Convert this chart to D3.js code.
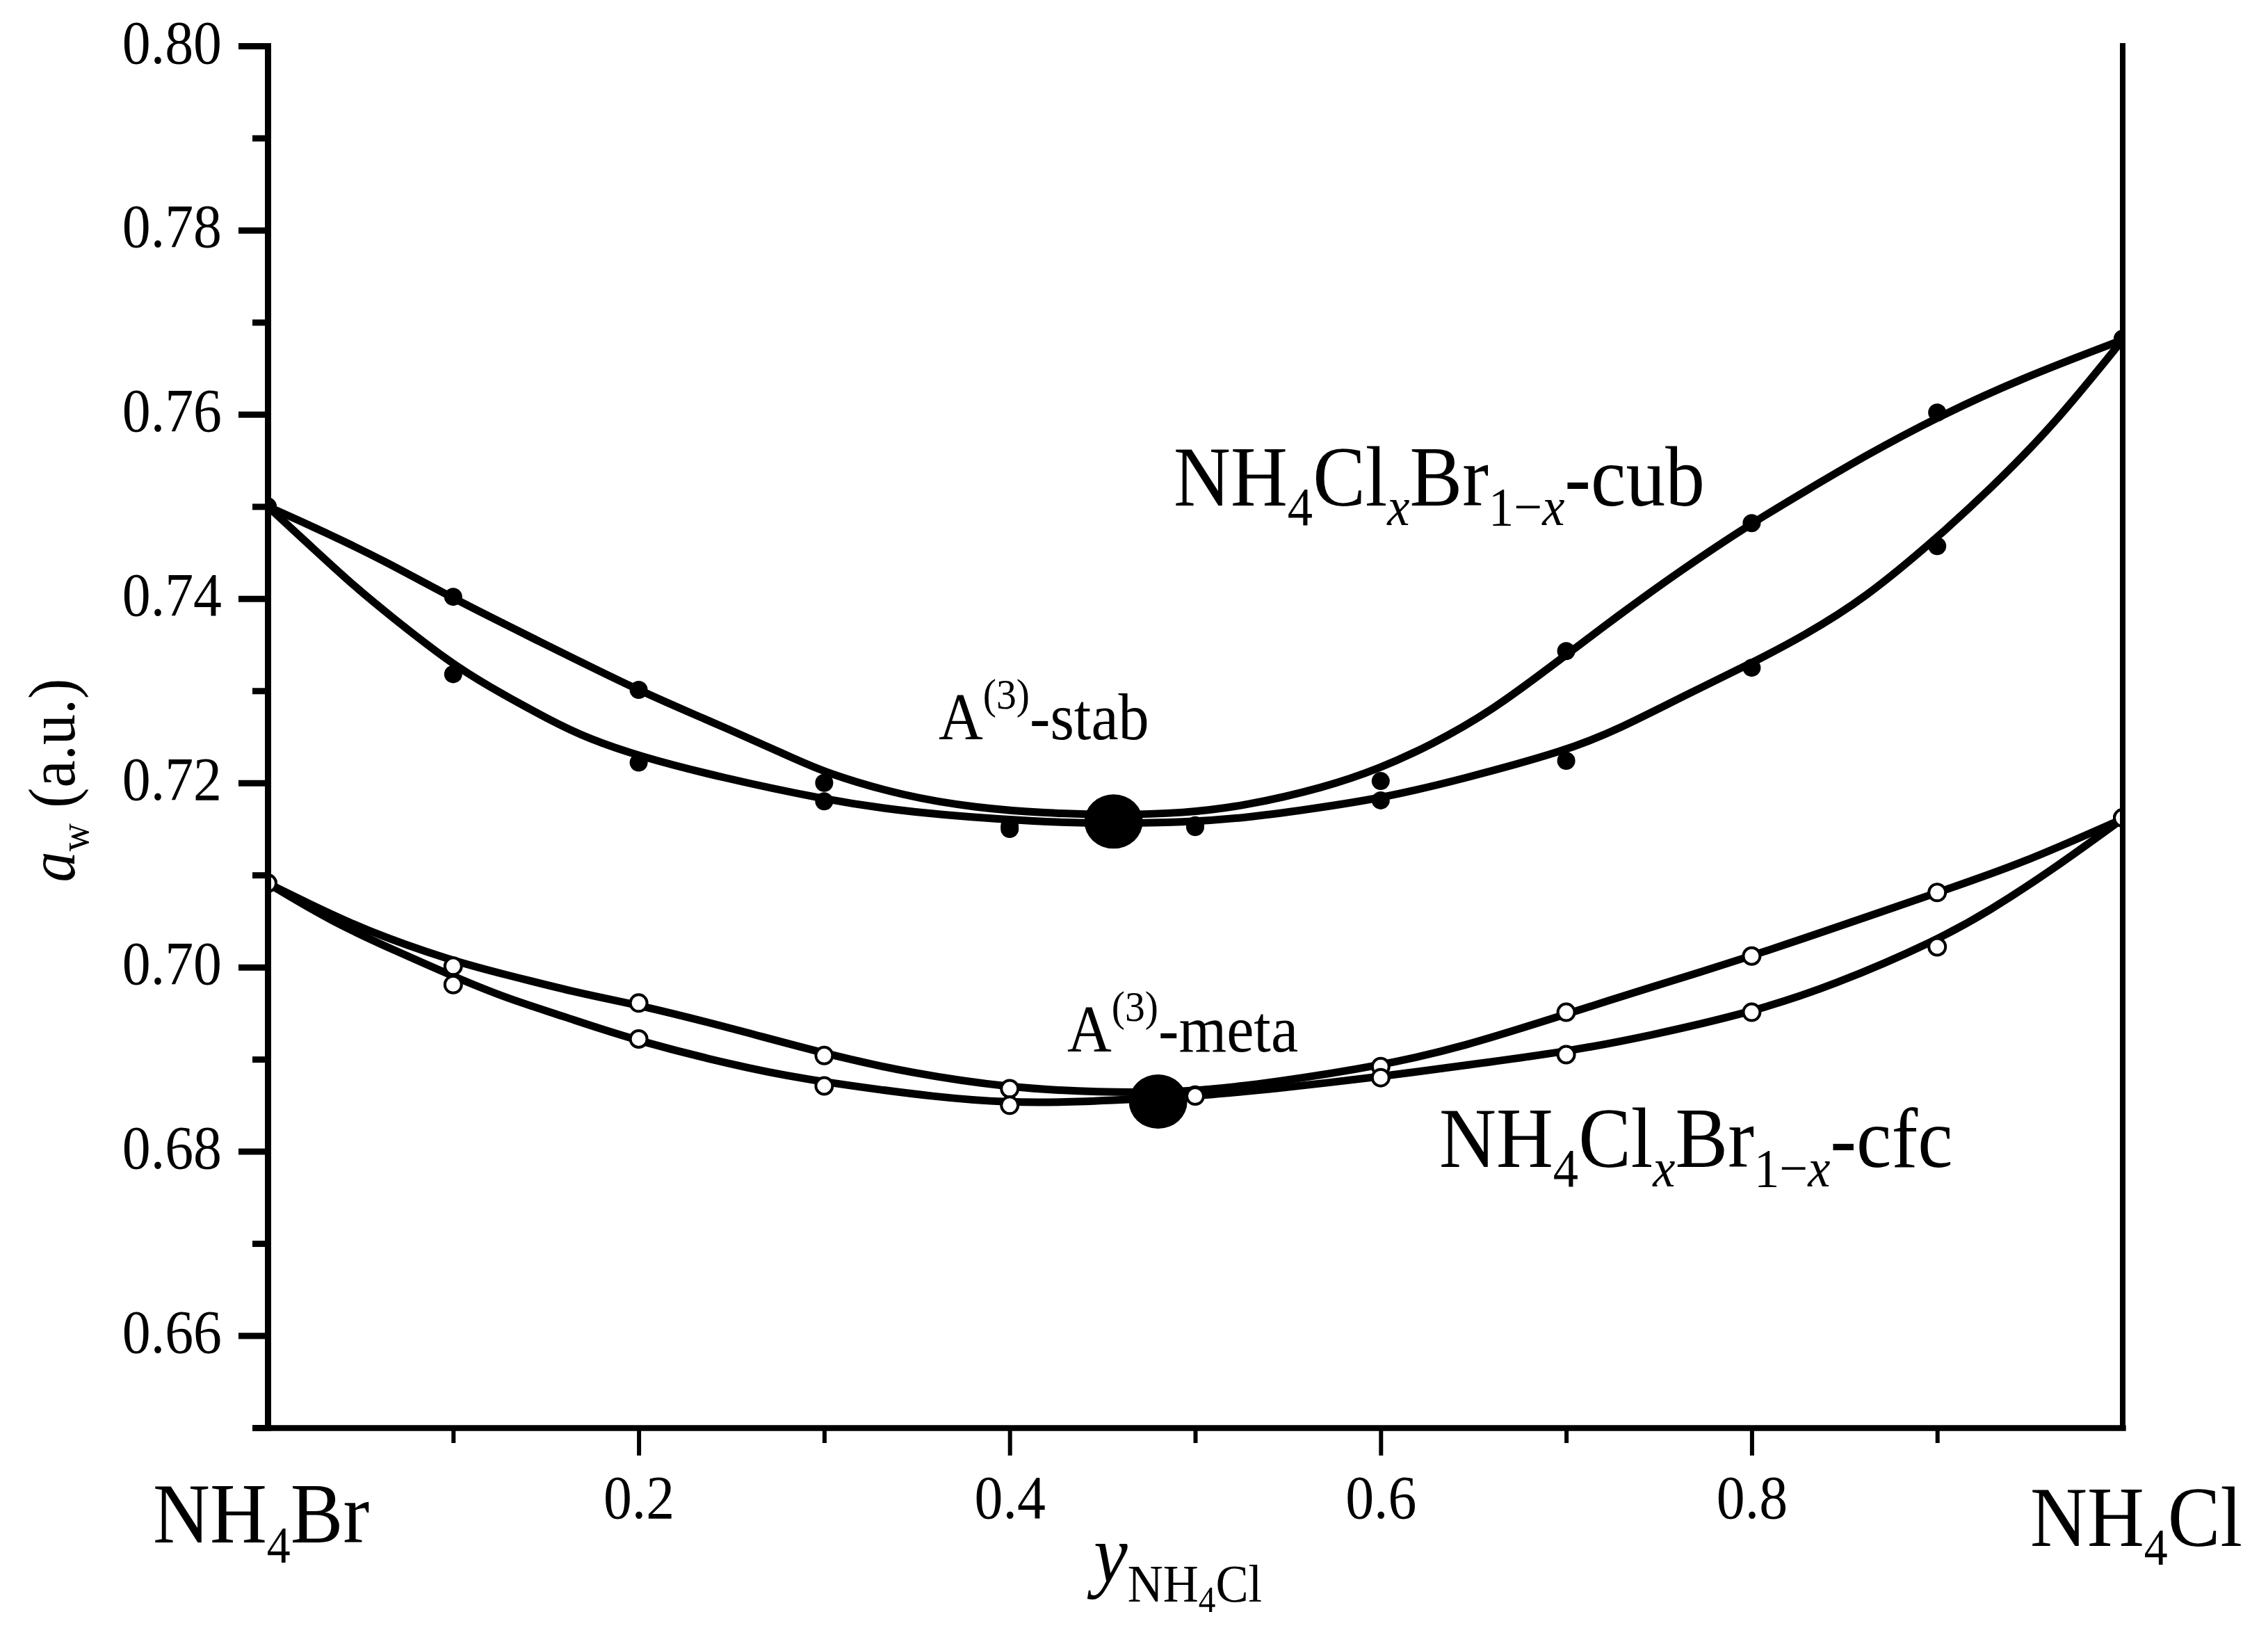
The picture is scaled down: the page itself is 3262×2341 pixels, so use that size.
<!DOCTYPE html>
<html>
<head>
<meta charset="utf-8">
<script src="https://cdn.jsdelivr.net/npm/d3@7"></script>
<style>
  body { margin: 0; background: #fff; }
  svg { display: block; font-family: "Liberation Serif", "Times New Roman", serif; }
</style>
</head>
<body>
<div id="vis"></div>
<script>
const FRAME_WIDTH = 3262;
const FRAME_HEIGHT = 2341;
const PLOT = {left: 385, right: 3053, top: 66, bottom: 2053};
const SQUEEZE = 0.93; // the original lettering is a bit narrow

// measured points (x = 0, 0.1 ... 1)
const X_PTS = [0, 0.1, 0.2, 0.3, 0.4, 0.5, 0.6, 0.7, 0.8, 0.9, 1.0];
const CUB_UPPER_PTS = [0.7500, 0.7402, 0.7301, 0.7200, 0.7153, 0.7154, 0.7202, 0.7343, 0.7482, 0.7602, 0.7682];
const CUB_LOWER_PTS = [0.7500, 0.7318, 0.7222, 0.7180, 0.7150, 0.7152, 0.7181, 0.7224, 0.7325, 0.7457, 0.7682];
const CFC_UPPER_PTS = [0.7091, 0.7001, 0.6961, 0.6904, 0.6868, 0.6861, 0.6892, 0.6951, 0.7012, 0.7081, 0.7162];
const CFC_LOWER_PTS = [0.7091, 0.6981, 0.6922, 0.6871, 0.6850, 0.6860, 0.6880, 0.6905, 0.6951, 0.7022, 0.7162];

// fitted curves
const CUB_UPPER_CURVE = [[0, 0.7500], [0.031, 0.7472], [0.063, 0.7441], [0.1, 0.7400], [0.144, 0.7356],
  [0.2, 0.7300], [0.234, 0.7271], [0.279, 0.7231], [0.3, 0.7211], [0.344, 0.7185], [0.382, 0.7173],
  [0.419, 0.7167], [0.456, 0.7165], [0.494, 0.7167], [0.527, 0.7175], [0.570, 0.7195], [0.600, 0.7216],
  [0.627, 0.7241], [0.660, 0.7278], [0.700, 0.7339], [0.727, 0.7380], [0.7605, 0.7429], [0.8, 0.7482],
  [0.8275, 0.7515], [0.861, 0.7555], [0.9, 0.7597], [0.944, 0.7638], [1.0, 0.7681]];
const CUB_LOWER_CURVE = [[0, 0.7500], [0.028, 0.7448], [0.047, 0.7413], [0.065, 0.7383], [0.098, 0.7331],
  [0.118, 0.7306], [0.153, 0.7267], [0.173, 0.7248], [0.2, 0.7229], [0.244, 0.7206], [0.3, 0.7182],
  [0.344, 0.7168], [0.419, 0.7157], [0.456, 0.7156], [0.494, 0.7157], [0.527, 0.7162], [0.560, 0.7171],
  [0.6, 0.7183], [0.644, 0.7204], [0.7, 0.7235], [0.727, 0.7257], [0.767, 0.7298], [0.8, 0.7330],
  [0.8275, 0.7359], [0.861, 0.7400], [0.9, 0.7466], [0.928, 0.7518], [0.961, 0.7584], [1.0, 0.7681]];
const CFC_UPPER_CURVE = [[0, 0.7091], [0.022, 0.7069], [0.0524, 0.7040], [0.099, 0.7007], [0.126, 0.6993],
  [0.169, 0.6971], [0.2, 0.6959], [0.2495, 0.6934], [0.3, 0.6906], [0.3463, 0.6885], [0.4, 0.6869],
  [0.4465, 0.6864], [0.4966, 0.6864], [0.5434, 0.6875], [0.6, 0.6893], [0.6437, 0.6913], [0.7, 0.6949],
  [0.744, 0.6977], [0.8, 0.7012], [0.844, 0.7042], [0.9, 0.7081], [0.944, 0.7111], [1.0, 0.7161]];
const CFC_LOWER_CURVE = [[0, 0.7091], [0.0356, 0.7048], [0.072, 0.7015], [0.1, 0.6990], [0.129, 0.6966],
  [0.159, 0.6947], [0.2, 0.6919], [0.2628, 0.6888], [0.3, 0.6875], [0.363, 0.6858], [0.4, 0.6853],
  [0.43, 0.6853], [0.48, 0.6858], [0.5, 0.6860], [0.5434, 0.6868], [0.6, 0.6881], [0.6437, 0.6893],
  [0.7, 0.6908], [0.744, 0.6925], [0.8, 0.6951], [0.844, 0.6980], [0.9, 0.7029], [0.928, 0.7061],
  [0.961, 0.7104], [1.0, 0.7161]];

// azeotropic points A(3)-stab, A(3)-meta
const AZEO_X = [0.456, 0.480];
const AZEO_Y = [0.7158, 0.6854];

// ticks
const X_MAJOR = [0.2, 0.4, 0.6, 0.8];
const X_MINOR = [0.1, 0.3, 0.5, 0.7, 0.9];
const Y_MAJOR = [0.66, 0.68, 0.70, 0.72, 0.74, 0.76, 0.78, 0.80];
const Y_MINOR = [0.65, 0.67, 0.69, 0.71, 0.73, 0.75, 0.77, 0.79];

const SVG = d3.select("#vis")
              .append("svg")
              .attr("width", FRAME_WIDTH)
              .attr("height", FRAME_HEIGHT);

const X_SCALE = d3.scaleLinear()
                  .domain([0, 1])
                  .range([PLOT.left, PLOT.right]);

const Y_SCALE = d3.scaleLinear()
                  .domain([0.65, 0.80])
                  .range([PLOT.bottom, PLOT.top]);

SVG.append("clipPath")
   .attr("id", "plotclip")
   .append("rect")
     .attr("x", PLOT.left)
     .attr("y", 0)
     .attr("width", PLOT.right - PLOT.left)
     .attr("height", PLOT.bottom);

const DATA_G = SVG.append("g").attr("clip-path", "url(#plotclip)");

// basis smooths out the small reading errors of the traced curves
const LINE = d3.line()
               .x((d) => X_SCALE(d[0]))
               .y((d) => Y_SCALE(d[1]))
               .curve(d3.curveBasis);

[CUB_UPPER_CURVE, CUB_LOWER_CURVE, CFC_UPPER_CURVE, CFC_LOWER_CURVE].forEach((c) => {
  DATA_G.append("path")
        .attr("d", LINE(c))
        .attr("fill", "none")
        .attr("stroke", "#000")
        .attr("stroke-width", 11)
        .attr("stroke-linejoin", "round");
});

// filled dots (cub)
[CUB_UPPER_PTS, CUB_LOWER_PTS].forEach((vals) => {
  DATA_G.selectAll(null)
        .data(X_PTS)
        .enter()
        .append("circle")
          .attr("cx", (d) => X_SCALE(d))
          .attr("cy", (d, i) => Y_SCALE(vals[i]))
          .attr("r", 13)
          .attr("fill", "#000");
});

// open dots (cfc)
[CFC_UPPER_PTS, CFC_LOWER_PTS].forEach((vals) => {
  DATA_G.selectAll(null)
        .data(X_PTS)
        .enter()
        .append("circle")
          .attr("cx", (d) => X_SCALE(d))
          .attr("cy", (d, i) => Y_SCALE(vals[i]))
          .attr("r", 12)
          .attr("fill", "#fff")
          .attr("stroke", "#000")
          .attr("stroke-width", 4);
});

DATA_G.selectAll(null)
      .data(AZEO_X)
      .enter()
      .append("ellipse")
        .attr("cx", (d) => X_SCALE(d))
        .attr("cy", (d, i) => Y_SCALE(AZEO_Y[i]))
        .attr("rx", 42)
        .attr("ry", 39)
        .attr("fill", "#000");

// axes
function styleAxis(g, width) {
  g.select(".domain").attr("stroke-width", width).attr("stroke-linecap", "square");
  g.selectAll(".tick line").attr("stroke-width", width);
}

const yMinor = SVG.append("g")
                  .attr("transform", "translate(" + PLOT.left + ",0)")
                  .call(d3.axisLeft(Y_SCALE).tickValues(Y_MINOR).tickSize(22).tickSizeOuter(0).tickFormat(""));
styleAxis(yMinor, 9);

const yMajor = SVG.append("g")
                  .attr("transform", "translate(" + PLOT.left + ",0)")
                  .call(d3.axisLeft(Y_SCALE).tickValues(Y_MAJOR).tickSize(42).tickSizeOuter(0)
                          .tickFormat(d3.format(".2f")));
styleAxis(yMajor, 9);
yMajor.selectAll(".tick text")
      .attr("x", 0).attr("dy", 0)
      .attr("transform", "translate(-66,24) scale(" + SQUEEZE + ",1)")
      .attr("font-size", 88)
      .attr("font-family", "Liberation Serif, Times New Roman, serif")
      .attr("fill", "#000");

const xMinor = SVG.append("g")
                  .attr("transform", "translate(0," + PLOT.bottom + ")")
                  .call(d3.axisBottom(X_SCALE).tickValues(X_MINOR).tickSize(22).tickSizeOuter(0).tickFormat(""));
styleAxis(xMinor, 8);
xMinor.selectAll(".tick line").attr("stroke-width", 6);

const xMajor = SVG.append("g")
                  .attr("transform", "translate(0," + PLOT.bottom + ")")
                  .call(d3.axisBottom(X_SCALE).tickValues(X_MAJOR).tickSize(40).tickSizeOuter(0)
                          .tickFormat(d3.format(".1f")));
styleAxis(xMajor, 8);
xMajor.selectAll(".tick line").attr("stroke-width", 6);
xMajor.selectAll(".tick text")
      .attr("y", 0).attr("dy", 0)
      .attr("transform", "translate(0,130) scale(" + SQUEEZE + ",1)")
      .attr("font-size", 88)
      .attr("font-family", "Liberation Serif, Times New Roman, serif")
      .attr("fill", "#000");

// right frame line
SVG.append("line")
   .attr("x1", PLOT.right).attr("x2", PLOT.right)
   .attr("y1", PLOT.top).attr("y2", PLOT.bottom)
   .attr("stroke", "#000")
   .attr("stroke-width", 8)
   .attr("stroke-linecap", "square");

// rich text with sub/superscripts
function richText(x, y, parts, size, anchor, rotate) {
  const g = SVG.append("g")
               .attr("transform", "translate(" + x + "," + y + ")" +
                     (rotate ? " rotate(" + rotate + ")" : "") +
                     " scale(" + SQUEEZE + ",1)");
  const t = g.append("text")
             .attr("font-size", size)
             .attr("text-anchor", anchor || "start")
             .attr("fill", "#000");
  let shift = 0;
  parts.forEach((p) => {
    const s = t.append("tspan").text(p.t);
    const target = p.dy || 0;
    s.attr("dy", target - shift);
    shift = target;
    if (p.size) s.attr("font-size", p.size);
    if (p.italic) s.attr("font-style", "italic");
  });
}

const SUB = 78;
richText(1688, 727, [
  {t: "NH"}, {t: "4", size: SUB, dy: 28}, {t: "Cl"}, {t: "x", size: SUB, dy: 28, italic: true},
  {t: "Br"}, {t: "1\u2212", size: SUB, dy: 28}, {t: "x", size: SUB, dy: 28, italic: true}, {t: "-cub"}
], 122);

richText(2070, 1678, [
  {t: "NH"}, {t: "4", size: SUB, dy: 28}, {t: "Cl"}, {t: "x", size: SUB, dy: 28, italic: true},
  {t: "Br"}, {t: "1\u2212", size: SUB, dy: 28}, {t: "x", size: SUB, dy: 28, italic: true}, {t: "-cfc"}
], 122);

richText(1350, 1063, [{t: "A"}, {t: "(3)", size: 62, dy: -44}, {t: "-stab"}], 95);
richText(1535, 1512, [{t: "A"}, {t: "(3)", size: 62, dy: -44}, {t: "-meta"}], 95);

richText(220, 2218, [{t: "NH"}, {t: "4", size: 73, dy: 29}, {t: "Br"}], 122);
richText(2920, 2223, [{t: "NH"}, {t: "4", size: 73, dy: 27}, {t: "Cl"}], 122);

// axis titles
richText(1573, 2275, [
  {t: "y", italic: true}, {t: "NH", size: 76, dy: 28}, {t: "4", size: 53, dy: 43}, {t: "Cl", size: 76, dy: 28}
], 118);

richText(107, 1122, [{t: "a", italic: true}, {t: "w", size: 60, dy: 20}, {t: " (a.u.)"}], 95, "middle", -90);
</script>
</body>
</html>
